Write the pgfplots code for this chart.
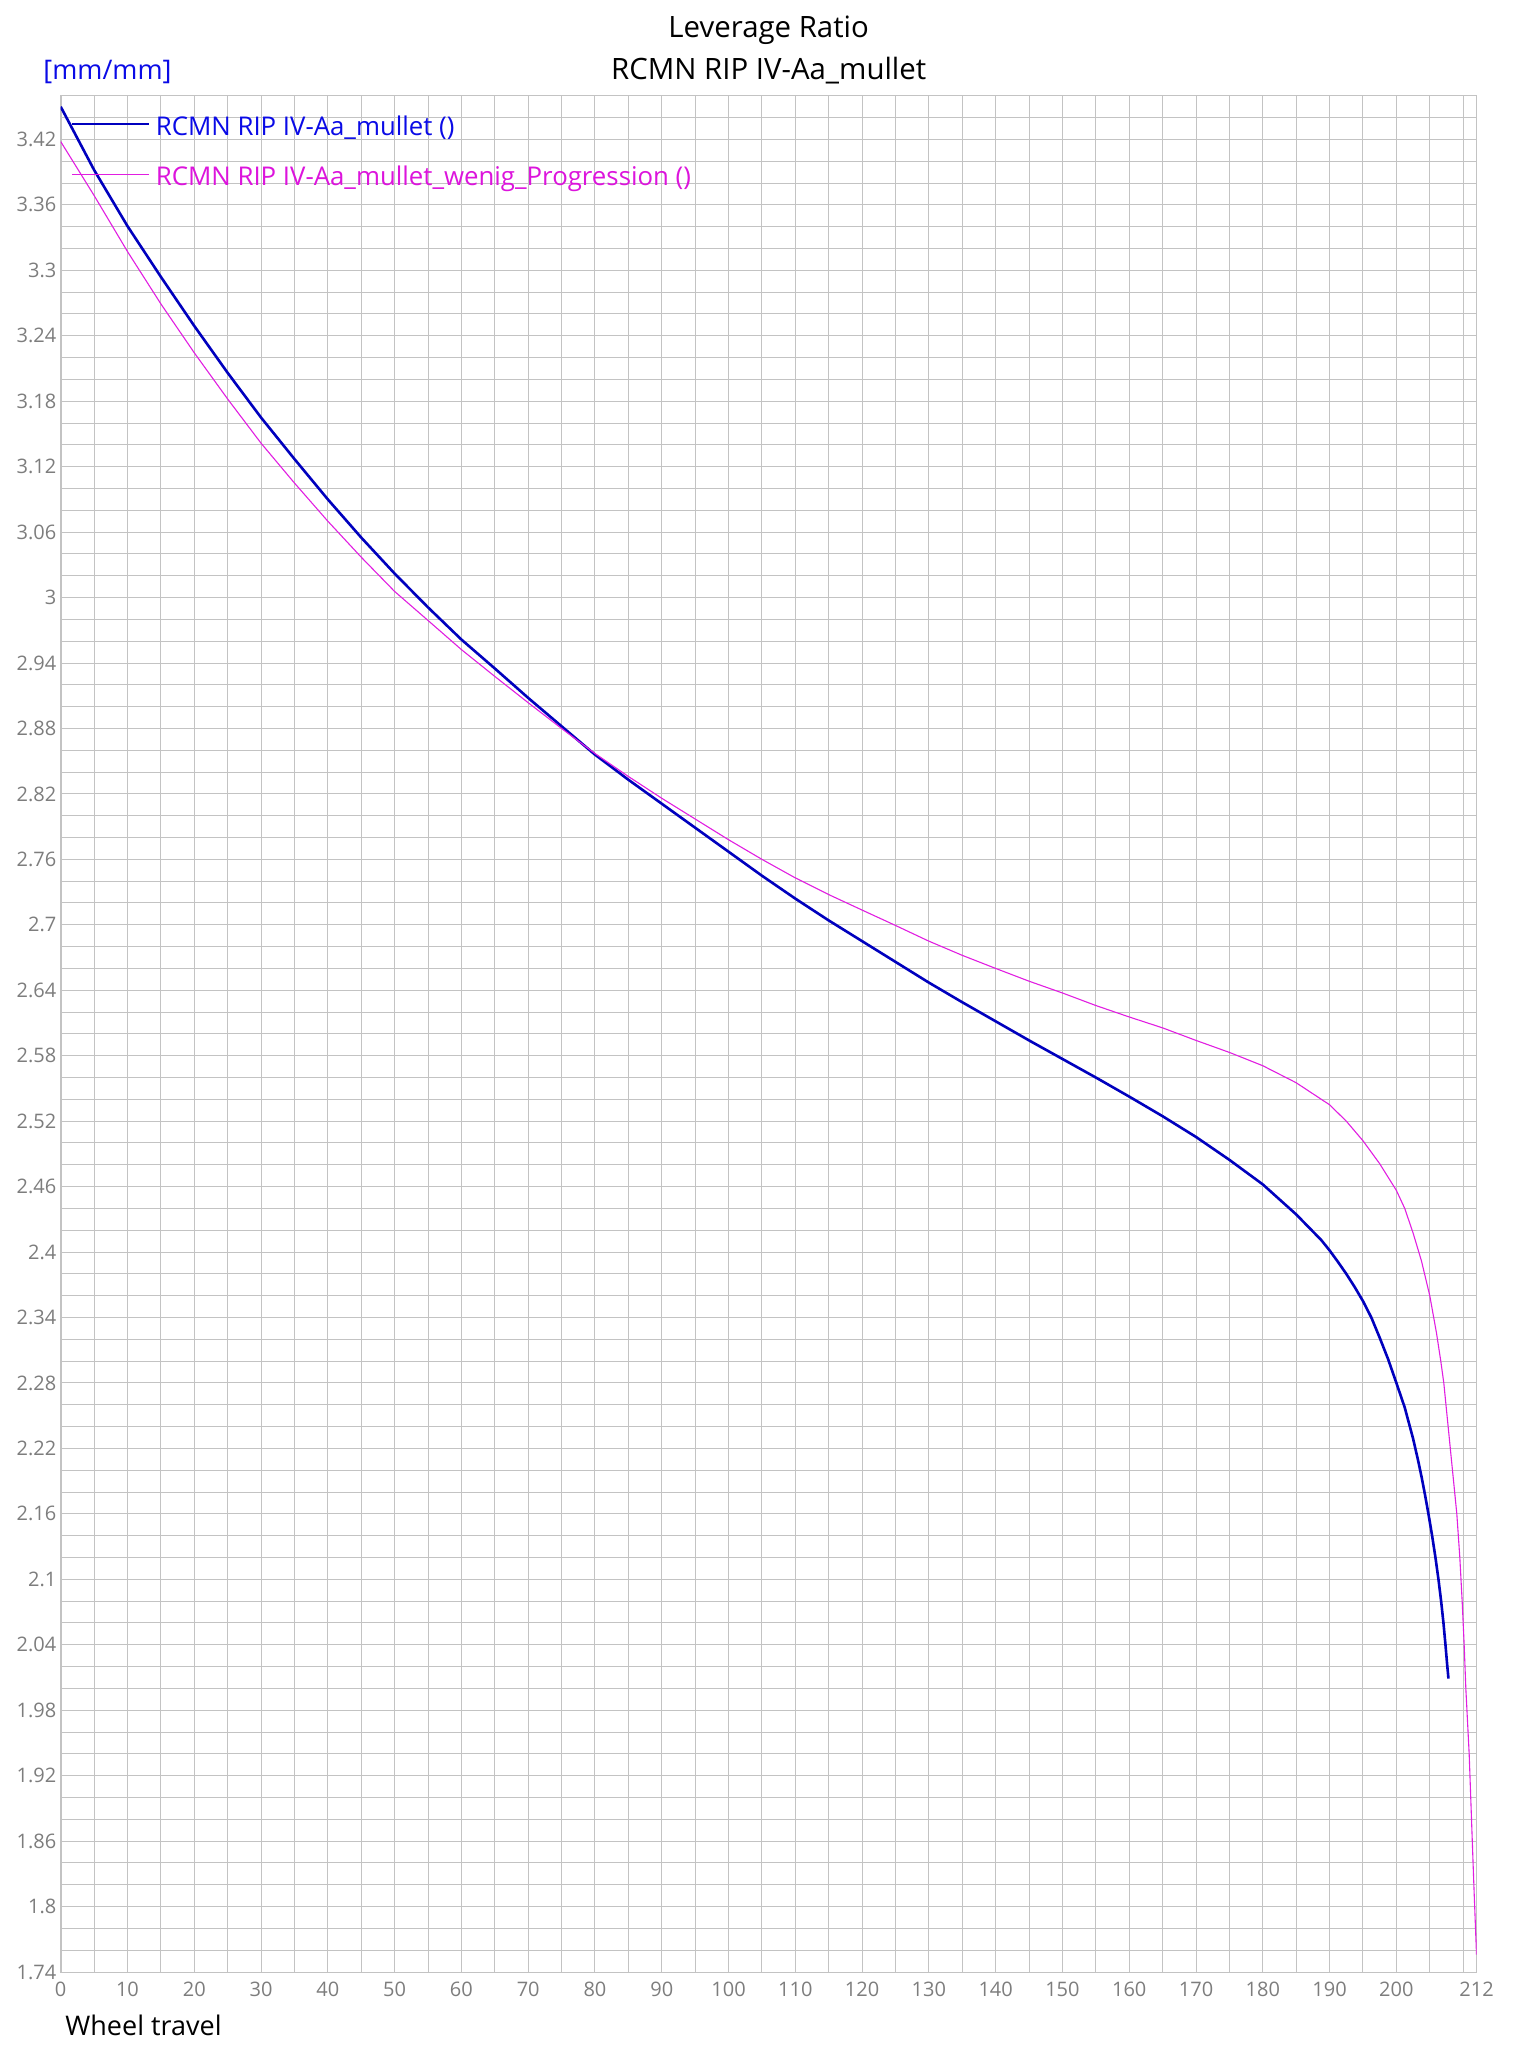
\documentclass[border=0pt]{standalone}
\usepackage{fontspec}
\setmainfont{Open Sans}
\usepackage{pgfplots}
\pgfplotsset{compat=1.18}
\definecolor{gridgray}{RGB}{195,195,195}
\definecolor{tickgray}{RGB}{125,125,125}
\definecolor{lineblue}{RGB}{0,0,190}
\definecolor{textblue}{RGB}{10,10,230}
\definecolor{linepink}{RGB}{225,30,225}
\definecolor{textpink}{RGB}{220,20,220}

\pgfplotstableread{
x y
0 3.450
5 3.392
10 3.3405
15 3.294
20 3.249
25 3.206
30 3.165
35 3.127
40 3.090
45 3.055
50 3.022
55 2.991
60 2.9615
65 2.935
70 2.908
75 2.882
80 2.856
85 2.833
90 2.811
95 2.789
100 2.767
105 2.745
110 2.724
115 2.704
120 2.685
125 2.666
130 2.647
135 2.629
140 2.6115
145 2.594
150 2.577
155 2.560
160 2.5425
165 2.5245
170 2.5055
175 2.4845
180 2.462
185 2.4345
188.75 2.411
190 2.4015
191.25 2.391
192.5 2.380
193.75 2.368
195 2.355
196.25 2.340
197.5 2.3215
198.75 2.302
200 2.280
201.25 2.2575
202.5 2.229
203.25 2.209
203.8 2.193
204.3 2.177
204.8 2.160
205.35 2.140
205.85 2.120
206.3 2.100
206.7 2.080
207.05 2.060
207.35 2.040
207.6 2.022
207.8 2.009
}\blueData

\pgfplotstableread{
x y
0 3.418
5 3.3686
10 3.3172
15 3.2692
20 3.2244
25 3.182
30 3.1415
35 3.105
40 3.070
45 3.037
50 3.0056
55 2.979
60 2.9523
65 2.9277
70 2.9036
75 2.880
80 2.857
85 2.836
90 2.816
95 2.797
100 2.778
105 2.760
110 2.743
115 2.7277
120 2.7135
125 2.6994
130 2.685
135 2.672
140 2.660
145 2.6483
150 2.6375
155 2.626
160 2.6155
165 2.6055
170 2.594
175 2.583
180 2.5708
185 2.5552
190 2.535
192.5 2.520
195 2.502
197.5 2.481
200 2.4565
201.25 2.440
202.5 2.4175
203.75 2.392
205 2.360
206 2.326
206.65 2.300
207.1 2.280
207.75 2.240
208.4 2.200
209.05 2.160
209.5 2.120
209.85 2.080
210.15 2.040
210.4 2.000
210.9 1.940
211.25 1.880
211.6 1.820
212 1.756
}\pinkData

\begin{document}
\begin{tikzpicture}
\begin{axis}[
  name=ax,
  at={(0,0)}, anchor=south west,
  scale only axis,
  width=707.9pt, height=938.1pt,
  xmin=0, xmax=212, ymin=1.74, ymax=3.46,
  xtick={0,10,20,30,40,50,60,70,80,90,100,110,120,130,140,150,160,170,180,190,200,212},
  minor xtick={5,15,25,35,45,55,65,75,85,95,105,115,125,135,145,155,165,175,185,195,205,210},
  ytick={1.74,1.8,1.86,1.92,1.98,2.04,2.1,2.16,2.22,2.28,2.34,2.4,2.46,2.52,2.58,2.64,2.7,2.76,2.82,2.88,2.94,3,3.06,3.12,3.18,3.24,3.3,3.36,3.42},
  minor ytick={1.76,1.78,1.82,1.84,1.88,1.90,1.94,1.96,2.00,2.02,2.06,2.08,2.12,2.14,2.18,2.20,2.24,2.26,2.30,2.32,2.36,2.38,2.42,2.44,2.48,2.50,2.54,2.56,2.60,2.62,2.66,2.68,2.72,2.74,2.78,2.80,2.84,2.86,2.90,2.92,2.96,2.98,3.02,3.04,3.08,3.10,3.14,3.16,3.20,3.22,3.26,3.28,3.32,3.34,3.38,3.40,3.44},
  grid=both,
  major grid style={gridgray, line width=0.5pt},
  minor grid style={gridgray, line width=0.5pt},
  axis line style={gridgray, line width=0.5pt},
  major tick length=0pt, minor tick length=0pt,
  tick style={draw=none},
  /pgf/number format/assume math mode=true,
  ticklabel style={font=\fontsize{10}{12}\selectfont, text=tickgray},
  yticklabel style={anchor=east, inner sep=2pt},
  xticklabel style={anchor=north, inner sep=0pt, yshift=-5pt},
  legend cell align=left,
  legend image code/.code={\draw[#1] (0pt,0pt) -- (38.3pt,0pt);},
  legend style={at={(axis cs:1.5,3.411)}, anchor=west, draw=none, fill=none,
    inner sep=0pt, outer sep=0pt, row sep=14.1pt, column sep=3pt,
    font=\fontsize{12.9}{15}\selectfont,
    nodes={inner sep=0pt, text height=11pt, text depth=0pt}},
]
\draw[gridgray, line width=1.6pt] (axis cs:0,1.74) -- (axis cs:0,3.46);
\addplot[lineblue, line width=1.3pt] table[x=x,y=y] {\blueData};
\addlegendentry{\textcolor{textblue}{RCMN RIP IV-Aa\_mullet ()}}
\addplot[linepink, line width=0.55pt] table[x=x,y=y] {\pinkData};
\addlegendentry{\textcolor{textpink}{RCMN RIP IV-Aa\_mullet\_wenig\_Progression ()}}
\end{axis}
\node[anchor=base, inner sep=0pt, font=\fontsize{14.7}{17}\selectfont] at (354pt,967.4pt) {Leverage Ratio};
\node[anchor=base, inner sep=0pt, font=\fontsize{14.7}{17}\selectfont] at (354pt,946pt) {RCMN RIP IV-Aa\_mullet};
\node[anchor=base west, inner sep=0pt, text=textblue, font=\fontsize{13.5}{16}\selectfont] at (-8.85pt,946pt) {[mm/mm]};
\node[anchor=base west, inner sep=0pt, font=\fontsize{13.5}{16}\selectfont] at (2.15pt,-31.5pt) {Wheel travel};
\pgfresetboundingbox
\path (-30.35pt,-38pt) rectangle (737.65pt,986pt);
\end{tikzpicture}
\end{document}
